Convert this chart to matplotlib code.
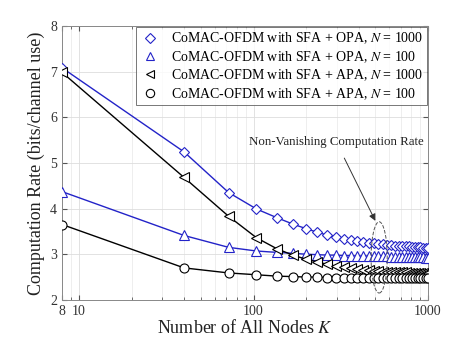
import numpy as np
import matplotlib
matplotlib.use('Agg')
import matplotlib.pyplot as plt
from matplotlib.patches import Ellipse
from matplotlib.lines import Line2D

plt.rcParams['font.family'] = ['Liberation Serif', 'DejaVu Serif']
plt.rcParams['mathtext.fontset'] = 'stix'

# number of nodes K (markers every 32 nodes)
K = [8, 40, 72, 104, 136, 168, 200, 232, 264, 296, 328, 360, 392, 424, 456, 488,
     520, 552, 584, 616, 648, 680, 712, 744, 776, 808, 840, 872, 904, 936, 968, 1000]

opa_1000 = [7.08, 5.24, 4.35, 3.99, 3.80, 3.66, 3.56, 3.48, 3.42, 3.38, 3.34, 3.31,
            3.29, 3.27, 3.25, 3.24, 3.23, 3.22, 3.21, 3.20, 3.19, 3.19, 3.18, 3.17,
            3.17, 3.16, 3.16, 3.15, 3.15, 3.14, 3.14, 3.13]
opa_100 = [4.37, 3.41, 3.15, 3.07, 3.04, 3.02, 3.00, 2.99, 2.98, 2.98, 2.97, 2.97,
           2.96, 2.96, 2.96, 2.95, 2.95, 2.95, 2.95, 2.94, 2.94, 2.94, 2.94, 2.94,
           2.93, 2.93, 2.93, 2.93, 2.93, 2.93, 2.92, 2.92]
apa_1000 = [6.98, 4.68, 3.83, 3.36, 3.12, 2.98, 2.89, 2.83, 2.78, 2.74, 2.71, 2.69,
            2.67, 2.66, 2.65, 2.64, 2.63, 2.62, 2.62, 2.61, 2.61, 2.60, 2.60, 2.60,
            2.59, 2.59, 2.59, 2.59, 2.58, 2.58, 2.58, 2.58]
apa_100 = [3.65, 2.70, 2.59, 2.55, 2.52, 2.51, 2.50, 2.50, 2.49, 2.49, 2.49, 2.48,
           2.48, 2.48, 2.48, 2.48, 2.47, 2.47, 2.47, 2.47, 2.47, 2.47, 2.47, 2.47,
           2.47, 2.47, 2.47, 2.47, 2.47, 2.47, 2.47, 2.47]

labels = ['CoMAC-OFDM with SFA + OPA, $N$ = 1000',
          'CoMAC-OFDM with SFA + OPA, $N$ = 100',
          'CoMAC-OFDM with SFA + APA, $N$ = 1000',
          'CoMAC-OFDM with SFA + APA, $N$ = 100']

blue = '#2323c8'
series = [(opa_1000, blue, 'D', 5.5), (opa_100, blue, '^', 6.5),
          (apa_1000, 'black', '<', 6.5), (apa_100, 'black', 'o', 6.5)]

fig = plt.figure(figsize=(4.74, 3.4), dpi=100)
ax = fig.add_axes([0.131, 0.118, 0.772, 0.806])

handles = []
for (vals, c, m, ms), lab in zip(series, labels):
    ax.plot(K, vals, color=c, lw=1.0, marker=m, ms=ms, mfc='white',
            mec=c, mew=0.8, zorder=3)
    handles.append(Line2D([], [], ls='none', marker=m, ms=ms - 0.5, mfc='white',
                          mec=c, mew=0.8, label=lab))

ax.set_xscale('log')
ax.set_xlim(8, 1000)
ax.set_ylim(2, 8)
ax.set_xticks([8, 10, 100, 1000])
ax.set_xticklabels(['8', '10', '100', '1000'])
ax.set_yticks([2, 3, 4, 5, 6, 7, 8])
ax.grid(True, which='major', color='#dddddd', lw=0.6)
ax.grid(True, which='minor', axis='x', color='#e8e8e8', lw=0.5)
ax.tick_params(which='both', direction='in', top=True, right=True,
               labelsize=10, colors='#555555', labelcolor='#333333')
ax.tick_params(which='minor', length=2)
for s in ax.spines.values():
    s.set_color('#888888')
    s.set_linewidth(0.7)

ax.set_xlabel('Number of All Nodes $K$', fontsize=13, labelpad=1, color='#222222')
ax.set_ylabel('Computation Rate (bits/channel use)', fontsize=13, labelpad=4,
              color='#222222')

leg = ax.legend(handles=handles, loc='upper right', fontsize=10, frameon=True,
                fancybox=False, edgecolor='#555555', borderpad=0.25,
                labelspacing=0.2, handletextpad=0.7, handlelength=1.6,
                borderaxespad=0.1)
leg.get_frame().set_linewidth(0.7)

# annotation for the asymptotic rate
ax.add_patch(Ellipse((0.8665, 0.155), 0.044, 0.26, transform=ax.transAxes,
                     fill=False, ls='--', lw=0.7, ec='#555555', zorder=4))
ax.annotate('Non-Vanishing Computation Rate', xy=(499, 3.73), xytext=(298, 5.46),
            fontsize=9.3, ha='center', va='center', color='#222222',
            arrowprops=dict(arrowstyle='-|>', color='#333333', lw=0.7,
                            shrinkA=6, shrinkB=0, mutation_scale=10))

fig.savefig('out.png', dpi=100)
